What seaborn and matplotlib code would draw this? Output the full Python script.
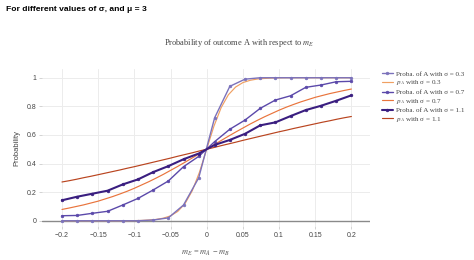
import matplotlib
matplotlib.use("Agg")
import matplotlib.pyplot as plt
import numpy as np
import pandas as pd
import seaborn as sns

# simulated points (lines + markers)
x_sim = [-0.2, -0.179, -0.158, -0.137, -0.116, -0.095, -0.074, -0.053, -0.032, -0.011,
         0.011, 0.032, 0.053, 0.074, 0.095, 0.116, 0.137, 0.158, 0.179, 0.2]
sim_03 = [0.0, 0.0, 0.0, 0.0, 0.0, 0.0, 0.005, 0.02, 0.11, 0.3,
          0.72, 0.94, 0.99, 1.0, 1.0, 1.0, 1.0, 1.0, 1.0, 1.0]
sim_07 = [0.035, 0.037, 0.052, 0.066, 0.11, 0.156, 0.215, 0.278, 0.378, 0.45,
          0.553, 0.64, 0.704, 0.786, 0.844, 0.874, 0.933, 0.949, 0.972, 0.975]
sim_11 = [0.143, 0.168, 0.189, 0.21, 0.254, 0.289, 0.34, 0.382, 0.43, 0.47,
          0.53, 0.565, 0.608, 0.667, 0.688, 0.732, 0.774, 0.804, 0.839, 0.877]

# p_A curves (smooth lines)
x_th = [-0.2, -0.19, -0.18, -0.17, -0.16, -0.15, -0.14, -0.13, -0.12, -0.11,
        -0.1, -0.09, -0.08, -0.07, -0.06, -0.05, -0.04, -0.03, -0.02, -0.01, 0.0,
        0.01, 0.02, 0.03, 0.04, 0.05, 0.06, 0.07, 0.08, 0.09, 0.1,
        0.11, 0.12, 0.13, 0.14, 0.15, 0.16, 0.17, 0.18, 0.19, 0.2]
th_03 = [0, 0, 0, 0, 0, 0, 0, 0, 0, 0,
         0.001, 0.002, 0.005, 0.009, 0.018, 0.034, 0.065, 0.119, 0.209, 0.339, 0.5,
         0.661, 0.791, 0.881, 0.935, 0.966, 0.982, 0.991, 0.995, 0.998, 0.999,
         1, 1, 1, 1, 1, 1, 1, 1, 1, 1]
th_07 = [0.079, 0.089, 0.1, 0.111, 0.124, 0.137, 0.153, 0.169, 0.187, 0.206,
         0.227, 0.25, 0.273, 0.298, 0.324, 0.352, 0.38, 0.409, 0.439, 0.469, 0.5,
         0.531, 0.561, 0.591, 0.62, 0.648, 0.676, 0.702, 0.727, 0.75, 0.773,
         0.794, 0.813, 0.831, 0.847, 0.863, 0.876, 0.889, 0.9, 0.911, 0.921]
th_11 = [0.271, 0.28, 0.29, 0.301, 0.311, 0.322, 0.333, 0.344, 0.355, 0.367,
         0.378, 0.39, 0.402, 0.414, 0.426, 0.438, 0.451, 0.463, 0.475, 0.488, 0.5,
         0.512, 0.525, 0.537, 0.549, 0.562, 0.574, 0.586, 0.598, 0.61, 0.622,
         0.633, 0.645, 0.656, 0.667, 0.678, 0.689, 0.699, 0.71, 0.72, 0.729]

sigmas = ["0.3", "0.7", "1.1"]
sim_colors = ["#7b72bb", "#5b49aa", "#3a1e80"]
th_colors = ["#f0a062", "#e9743c", "#b9441f"]
sim_widths = [1.0, 1.0, 1.5]

sns.set_style("white")
plt.rcParams["font.family"] = ["Liberation Serif", "DejaVu Serif"]
plt.rcParams["mathtext.fontset"] = "stix"

fig = plt.figure(figsize=(4.74, 2.6), dpi=100)
ax = fig.add_axes([0.088, 0.129, 0.693, 0.605])

sims = [sim_03, sim_07, sim_11]
ths = [th_03, th_07, th_11]
for i, s in enumerate(sigmas):
    df_s = pd.DataFrame({"x": x_sim, "y": sims[i]})
    sns.lineplot(data=df_s, x="x", y="y", ax=ax, color=sim_colors[i],
                 lw=sim_widths[i], marker="o", ms=2.0, mew=0.4, mec=sim_colors[i],
                 label=f"Proba. of A with σ = {s}", zorder=3)
    df_t = pd.DataFrame({"x": x_th, "y": ths[i]})
    sns.lineplot(data=df_t, x="x", y="y", ax=ax, color=th_colors[i], lw=0.85,
                 label=f"$p_A$ with σ = {s}", zorder=2)

ax.set_xlim(-0.228, 0.226)
ax.set_ylim(-0.04, 1.06)
ax.set_xticks([-0.2, -0.15, -0.1, -0.05, 0, 0.05, 0.1, 0.15, 0.2])
ax.set_xticklabels(["−0.2", "−0.15", "−0.1", "−0.05", "0", "0.05", "0.1", "0.15", "0.2"])
ax.set_yticks([0, 0.2, 0.4, 0.6, 0.8, 1])
ax.set_yticklabels(["0", "0.2", "0.4", "0.6", "0.8", "1"])
for lab in ax.get_xticklabels() + ax.get_yticklabels():
    lab.set_family(["Liberation Sans", "DejaVu Sans"])
ax.tick_params(labelsize=5, colors="#cccccc", labelcolor="#444444", length=2.5,
               width=0.6, pad=1.5, left=True, bottom=True)
ax.grid(True, color="#ececec", lw=0.7)
ax.axhline(0, color="#8a8a8a", lw=1.0, zorder=1.5)
for sp in ax.spines.values():
    sp.set_visible(False)

ax.set_xlabel("$m_E$ = $m_A$ − $m_B$", fontsize=6, color="#555555", labelpad=7)
ax.set_ylabel("Probability", fontsize=5.5, color="#444444", labelpad=4,
              family=["Liberation Sans", "DejaVu Sans"])

fig.text(0.5045, 0.836, "Probability of outcome A with respect to $m_E$",
         ha="center", va="center", fontsize=6, color="#444444")
fig.text(0.012, 0.963, "For different values of σ, and μ = 3", ha="left", va="center",
         fontsize=6.1, fontweight="bold", color="black",
         family=["Liberation Sans", "DejaVu Sans"])

leg = ax.legend(loc="upper left", bbox_to_anchor=(0.806, 0.727),
                bbox_transform=fig.transFigure, frameon=False, fontsize=5.1,
                handlelength=1.5, handletextpad=0.5, labelspacing=0.22,
                borderaxespad=0, borderpad=0)
for t in leg.get_texts():
    t.set_color("#444444")

fig.savefig("out.png", dpi=100)
